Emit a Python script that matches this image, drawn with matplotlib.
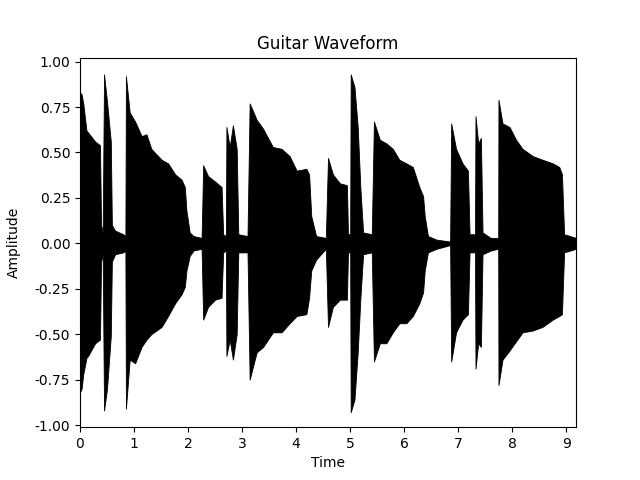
import matplotlib
matplotlib.use("Agg")
import matplotlib.pyplot as plt

# envelope of the waveform (seconds, upper, lower)
times = [0.00, 0.03, 0.06, 0.12, 0.15, 0.28, 0.37, 0.39, 0.42,
         0.445, 0.50, 0.57, 0.59, 0.65, 0.80, 0.84,
         0.85, 0.92, 1.02, 1.14, 1.23, 1.32, 1.51, 1.63, 1.76, 1.88, 1.94, 1.97, 2.03, 2.10, 2.25,
         2.28, 2.37, 2.50, 2.62, 2.65, 2.70,
         2.71, 2.77, 2.83, 2.90, 2.93, 3.10,
         3.14, 3.27, 3.39, 3.57, 3.73, 3.88, 4.01, 4.19, 4.24, 4.28, 4.37, 4.55,
         4.59, 4.68, 4.81, 4.94, 4.96, 5.00,
         5.01, 5.08, 5.14, 5.19, 5.24, 5.40,
         5.44, 5.55, 5.67, 5.79, 5.91, 6.04, 6.16, 6.28, 6.35, 6.38, 6.44, 6.60, 6.85,
         6.87, 6.96, 7.08, 7.18, 7.21, 7.31,
         7.32, 7.37, 7.42, 7.45, 7.60, 7.74,
         7.745, 7.82, 7.95, 8.07, 8.19, 8.38, 8.56, 8.75, 8.87, 8.92, 8.96, 9.18]
upper = [0.83, 0.82, 0.77, 0.62, 0.61, 0.56, 0.54, 0.10, 0.06,
         0.93, 0.78, 0.56, 0.10, 0.07, 0.05, 0.04,
         0.92, 0.72, 0.67, 0.59, 0.60, 0.52, 0.46, 0.44, 0.38, 0.35, 0.31, 0.18, 0.06, 0.04, 0.03,
         0.43, 0.37, 0.34, 0.31, 0.05, 0.04,
         0.64, 0.53, 0.65, 0.52, 0.05, 0.04,
         0.77, 0.68, 0.63, 0.53, 0.52, 0.48, 0.40, 0.41, 0.38, 0.15, 0.04, 0.03,
         0.47, 0.38, 0.33, 0.32, 0.05, 0.05,
         0.93, 0.86, 0.64, 0.30, 0.06, 0.05,
         0.67, 0.57, 0.55, 0.52, 0.46, 0.44, 0.42, 0.31, 0.26, 0.15, 0.04, 0.02, 0.01,
         0.66, 0.52, 0.44, 0.40, 0.05, 0.05,
         0.70, 0.55, 0.58, 0.06, 0.03, 0.03,
         0.79, 0.66, 0.64, 0.57, 0.52, 0.48, 0.46, 0.44, 0.42, 0.38, 0.05, 0.03]
lower = [-0.82, -0.80, -0.72, -0.63, -0.62, -0.55, -0.53, -0.10, -0.06,
         -0.92, -0.80, -0.51, -0.10, -0.06, -0.05, -0.04,
         -0.91, -0.64, -0.66, -0.57, -0.53, -0.50, -0.46, -0.40, -0.33, -0.28, -0.24, -0.15, -0.07, -0.04, -0.03,
         -0.42, -0.35, -0.31, -0.30, -0.05, -0.04,
         -0.62, -0.53, -0.64, -0.50, -0.05, -0.05,
         -0.75, -0.60, -0.57, -0.49, -0.49, -0.44, -0.40, -0.39, -0.30, -0.15, -0.09, -0.03,
         -0.46, -0.35, -0.31, -0.31, -0.05, -0.05,
         -0.93, -0.86, -0.60, -0.30, -0.06, -0.05,
         -0.65, -0.55, -0.55, -0.49, -0.44, -0.44, -0.40, -0.33, -0.27, -0.15, -0.05, -0.03, -0.01,
         -0.65, -0.49, -0.42, -0.39, -0.05, -0.05,
         -0.69, -0.55, -0.57, -0.06, -0.04, -0.03,
         -0.78, -0.64, -0.59, -0.54, -0.49, -0.48, -0.46, -0.42, -0.40, -0.39, -0.05, -0.03]

x_ticks = list(range(10))
y_ticks = [-1.0, -0.75, -0.5, -0.25, 0.0, 0.25, 0.5, 0.75, 1.0]

fig, ax = plt.subplots(figsize=(6.4, 4.8), dpi=100)
ax.fill_between(times, lower, upper, color="black", edgecolor="black", linewidth=0.6)

ax.set_xlim(0, times[-1])
ax.set_ylim(-1.012, 1.022)
ax.set_xticks(x_ticks)
ax.set_yticks(y_ticks)
ax.set_yticklabels([f"{v:.2f}" for v in y_ticks])
ax.set_title("Guitar Waveform")
ax.set_xlabel("Time")
ax.set_ylabel("Amplitude", labelpad=10)

fig.savefig("out.png", dpi=100)
